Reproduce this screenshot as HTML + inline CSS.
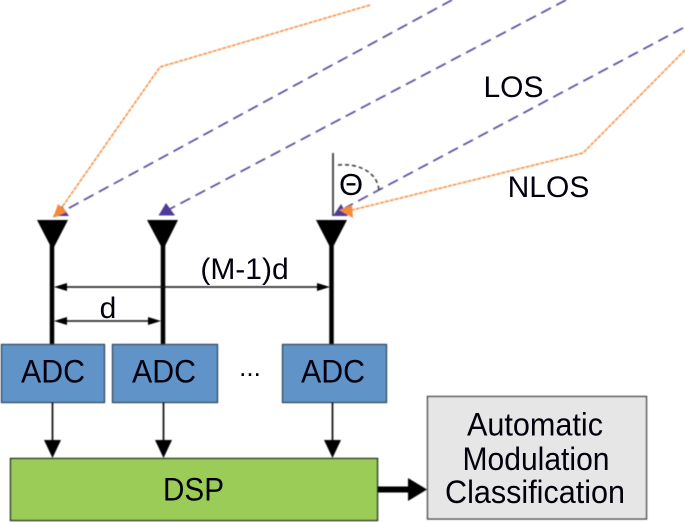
<!DOCTYPE html>
<html><head><meta charset="utf-8"><style>html,body{margin:0;padding:0;background:#fff}svg{display:block}text{font-family:"Liberation Sans",sans-serif;fill:#05040f;text-anchor:middle}</style></head><body>
<svg width="685" height="522" viewBox="0 0 685 522" xmlns="http://www.w3.org/2000/svg">
<defs><filter id="b" x="-2%" y="-2%" width="104%" height="104%"><feGaussianBlur stdDeviation="0.45"/></filter><filter id="t" x="-2%" y="-2%" width="104%" height="104%"><feGaussianBlur stdDeviation="0.25"/></filter></defs>
<g filter="url(#b)">
<g fill="none" stroke="#f59a52" stroke-width="1.700" stroke-dasharray="4 1">
<path d="M370 5L160 67L60 210"/><path d="M685 50L583 153L352 210"/></g>
<g fill="none" stroke="#5f4a9f" stroke-width="1.700" stroke-dasharray="11 6">
<path d="M452 0L60 213"/><path d="M566 0L168 210"/><path d="M683 28L345 208"/></g>
<path d="M333 153V216" stroke="#333" stroke-width="1.700"/>
<path d="M338 165C358 163 378 172 379 191" fill="none" stroke="#333" stroke-width="1.500" stroke-dasharray="4 3"/>
<g fill="#4f3a96"><path d="M158.500 215.500L175 215.500L166 203Z"/><path d="M53 216L69 216L62 206Z"/><path d="M333 216L348 216L341 204Z"/></g>
<g fill="#f58a35"><path d="M53 218L58 204L67 212Z"/><path d="M339 210L352 205L353 218Z"/></g>
<g fill="#000"><path d="M37 220H68L52.500 250Z"/><path d="M147 220H178L163 250Z"/><path d="M316 220H347L331.500 250Z"/></g>
<g stroke="#000" stroke-width="4.500"><path d="M52 245V344"/><path d="M163 245V344"/><path d="M331.500 245V344"/></g>
<g stroke="#111" stroke-width="1.400"><path d="M60 287H325"/><path d="M60 321H155"/></g>
<g fill="#000"><path d="M54 287L67 283V291Z"/><path d="M330 287L317 283V291Z"/><path d="M54 321L67 317V325Z"/><path d="M161 321L148 317V325Z"/></g>
<g fill="#6194c8" stroke="#2a4258" stroke-width="1.300"><rect x="1.500" y="344.500" width="103" height="58"/><rect x="112.500" y="344.500" width="105" height="58"/><rect x="282.500" y="344.500" width="104" height="58"/></g>
<g stroke="#111" stroke-width="1.700"><path d="M52.500 402V444"/><path d="M163.500 402V444"/><path d="M332.500 402V444"/></g>
<g fill="#000"><path d="M44 440H61L52.500 458Z"/><path d="M155 440H172L163.500 458Z"/><path d="M324 440H341L332.500 458Z"/></g>
<rect x="10.500" y="458.500" width="367" height="62" fill="#9ccc59" stroke="#10180a" stroke-width="1.300"/>
<rect x="427.500" y="396.500" width="219" height="122.500" fill="#e6e6e6" stroke="#333" stroke-width="1.300"/>
<path d="M378 489.500H412" stroke="#000" stroke-width="6"/><path d="M408 478L427 489.500L408 501Z" fill="#000"/>
</g>
<g filter="url(#t)">
<g font-size="32"><text x="53" y="382.500" textLength="64" lengthAdjust="spacingAndGlyphs">ADC</text><text x="164" y="382.500" textLength="64" lengthAdjust="spacingAndGlyphs">ADC</text><text x="333" y="382.500" textLength="64" lengthAdjust="spacingAndGlyphs">ADC</text><text x="193.500" y="500.500" textLength="61" lengthAdjust="spacingAndGlyphs">DSP</text>
<text x="535" y="435.500" textLength="136" lengthAdjust="spacingAndGlyphs">Automatic</text><text x="536" y="470" textLength="147" lengthAdjust="spacingAndGlyphs">Modulation</text><text x="535" y="503" textLength="180" lengthAdjust="spacingAndGlyphs">Classification</text>
<text x="250" y="376" font-size="26">...</text>
<text x="513.500" y="97" font-size="30">LOS</text><text x="548.500" y="197" font-size="30">NLOS</text></g>
<text x="244.500" y="279" font-size="30">(M-1)d</text><text x="108" y="318" font-size="30">d</text><text x="351" y="195" font-size="31">Θ</text>
</g>
</svg></body></html>
